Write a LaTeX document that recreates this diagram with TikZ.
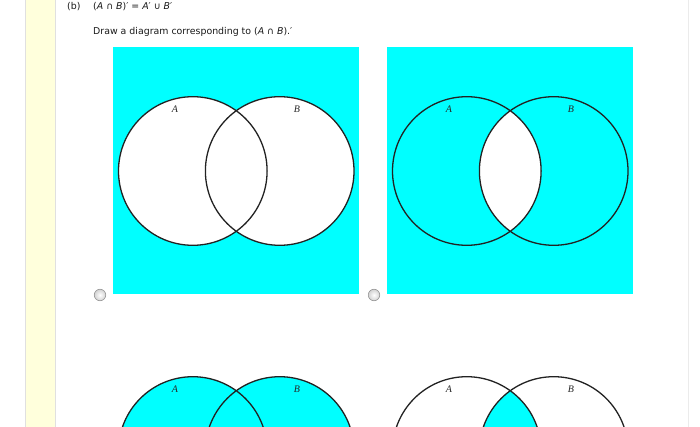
\documentclass[tikz,border=0pt]{standalone}
\usepackage{fontspec}
\setmainfont{DejaVu Sans}
\newfontfamily\vennfont{Liberation Serif}
\usetikzlibrary{positioning}
\definecolor{vcyan}{HTML}{00FFFF}
\definecolor{vyellow}{HTML}{FFFFDC}
\definecolor{vline}{HTML}{222222}

\begin{document}
\begin{tikzpicture}[x=1pt, y=-1pt,
  ring/.style={draw=vline, line width=1.3pt},
  setlbl/.style={font=\vennfont\itshape\fontsize{10}{10}\selectfont, inner sep=0pt, text=black!85},
  qtext/.style={font=\fontsize{9.4}{11}\selectfont, anchor=west, inner sep=0pt, text=black!90},
  radio/.style={circle, draw=gray!85, line width=0.6pt, inner sep=0pt, minimum size=11.5pt, inner color=white, outer color=gray!35},
]
\useasboundingbox (0,0) rectangle (700,427);
\clip (0,0) rectangle (700,427);

% side strips
\fill[vyellow] (25,0) rectangle (55,427);
\draw[black!12] (25,0) -- (25,427) (55,0) -- (55,427);
\draw[black!8] (688,0) -- (688,427);

% question
\node[qtext] (part) at (67,7) {(b)};
\node[qtext] (law) at (93,7) {(\textit{A} ∩ \textit{B})′ = \textit{A}′ ∪ \textit{B}′};
\node[qtext] (prompt) at (93,32) {Draw a diagram corresponding to (\textit{A} ∩ \textit{B}).′};

% set centres
\coordinate (a1) at (192.8,171); \coordinate (b1) at (279.7,171);
\coordinate (a2) at (466.8,171); \coordinate (b2) at (553.7,171);
\coordinate (a3) at (192.8,451); \coordinate (b3) at (279.7,451);
\coordinate (a4) at (466.8,451); \coordinate (b4) at (553.7,451);
\def\rad{74.3}

% option 1: outside of A and B
\fill[vcyan] (113,47) rectangle (359,294);
\fill[white] (a1) circle (\rad) (b1) circle (\rad);
\draw[ring] (a1) circle (\rad) (b1) circle (\rad);

% option 2: everything but A n B
\fill[vcyan] (387,47) rectangle (633,294);
\begin{scope}
  \clip (a2) circle (\rad);
  \fill[white] (b2) circle (\rad);
\end{scope}
\draw[ring] (a2) circle (\rad) (b2) circle (\rad);

% option 3: A u B
\fill[vcyan] (a3) circle (\rad) (b3) circle (\rad);
\draw[ring] (a3) circle (\rad) (b3) circle (\rad);

% option 4: A n B
\begin{scope}
  \clip (a4) circle (\rad);
  \fill[vcyan] (b4) circle (\rad);
\end{scope}
\draw[ring] (a4) circle (\rad) (b4) circle (\rad);

% set labels
\foreach \i/\dx/\dy in {1/0/0, 2/274/0, 3/0/280, 4/274/280} {
  \node[setlbl] (la\i) at (175+\dx,109.5+\dy) {A};
  \node[setlbl] (lb\i) at (297+\dx,109.5+\dy) {B};
}

% radio buttons
\node[radio] (opt1) at (100,295) {};
\node[radio] (opt2) at (374,295) {};
\end{tikzpicture}
\end{document}
